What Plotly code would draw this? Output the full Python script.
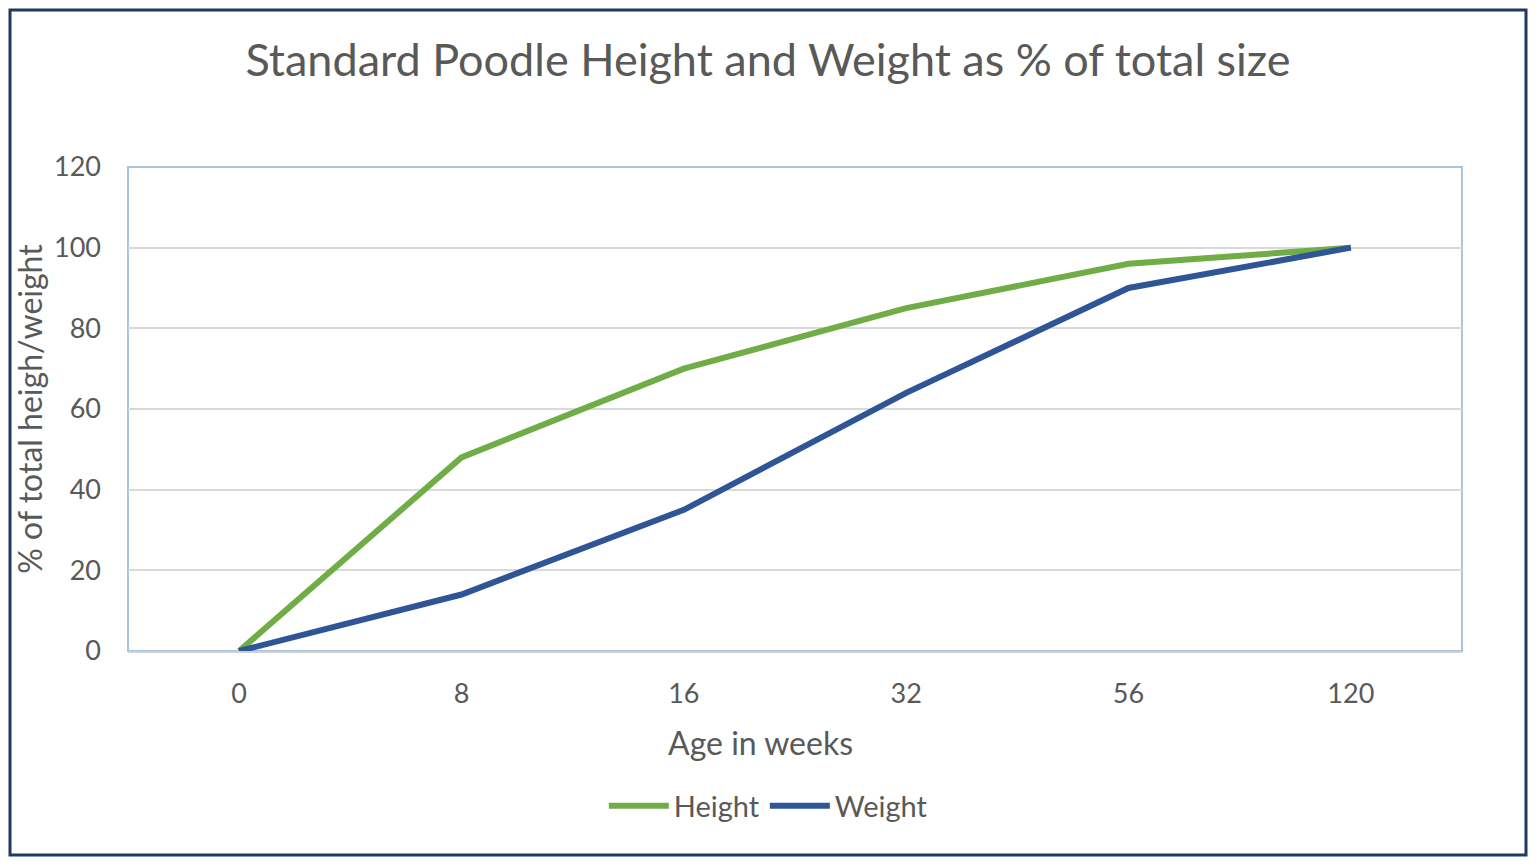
import plotly.graph_objects as go

# values
ages = ["0", "8", "16", "32", "56", "120"]
height_pct = [0, 48, 70, 85, 96, 100]
weight_pct = [0, 14, 35, 64, 90, 100]

# the page body adds an 8px margin, so the figure is 16px smaller
W, H = 1520, 849
L, R, T, B = 120, 66, 159, 206
pw, ph = W - L - R, H - T - B

fig = go.Figure()
fig.add_trace(go.Scatter(x=ages, y=height_pct, name="Height", mode="lines",
                         line=dict(color="#70AD47", width=6)))
fig.add_trace(go.Scatter(x=ages, y=weight_pct, name="Weight", mode="lines",
                         line=dict(color="#2F5597", width=6)))

font = "Lato, 'Open Sans', sans-serif"
fig.update_layout(
    width=W, height=H,
    margin=dict(l=L, r=R, t=T, b=B),
    paper_bgcolor="white", plot_bgcolor="white",
    font=dict(family=font, color="#595959"),
    title=dict(text="Standard Poodle Height and Weight as % of total size",
               x=0.5, xanchor="center", y=1 - 52 / H, yanchor="middle",
               font=dict(size=45, color="#595959")),
    xaxis=dict(type="category", range=[-0.5, 5.5], showgrid=False,
               showline=True, linecolor="#D0D0D0", linewidth=2,
               ticks="", tickfont=dict(size=27), ticklabelstandoff=18),
    yaxis=dict(range=[0, 120], dtick=20, showgrid=True, gridcolor="#D9D9D9",
               gridwidth=1.5, zeroline=False, ticks="", tickfont=dict(size=27),
               ticklabelstandoff=26,
               title=dict(text="% of total heigh/weight", font=dict(size=32),
                          standoff=1)),
    legend=dict(orientation="h", x=0.48, xanchor="center",
                y=-(798 - 643) / ph, yanchor="middle",
                font=dict(size=29), itemwidth=60),
    showlegend=True,
    annotations=[
        # x axis title sits a little left of centre, as in the original
        dict(text="Age in weeks", xref="paper", yref="paper",
             x=(752 - L) / pw, y=-(734 - (H - B)) / ph, xanchor="center",
             yanchor="middle", showarrow=False, font=dict(size=32)),
    ],
    shapes=[
        # plot area frame (light blue)
        dict(type="rect", xref="paper", yref="paper", x0=0, x1=1, y0=0, y1=1,
             line=dict(color="#A9C4E0", width=2), layer="below"),
        # outer chart border
        dict(type="rect", xref="paper", yref="paper",
             x0=-(L - 2) / pw, x1=1 + (R - 2) / pw,
             y0=-(B - 2) / ph, y1=1 + (T - 2) / ph,
             line=dict(color="#1F3864", width=3)),
    ],
)

fig.write_html("out.html")
